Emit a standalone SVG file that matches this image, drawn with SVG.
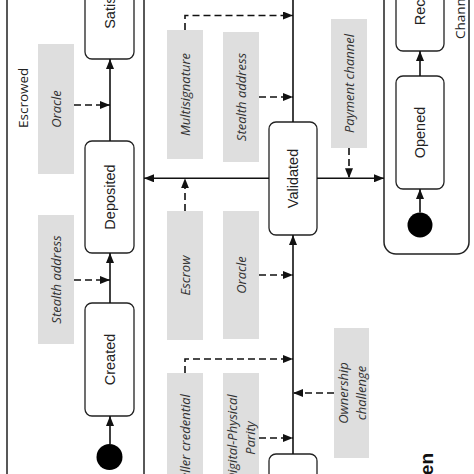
<svg xmlns="http://www.w3.org/2000/svg" width="474" height="474" viewBox="0 0 474 474">
<style>
.bg{fill:#ffffff}
.cont{fill:none;stroke:#222;stroke-width:1.5}
.state{fill:#fff;stroke:#222;stroke-width:1.3}
.gray{fill:#dedede;stroke:none}
.init{fill:#000}
.sl{font-family:"Liberation Sans",Arial,sans-serif;font-size:14.5px;fill:#222;text-anchor:middle;dominant-baseline:central}
.gl{font-family:"Open Sans",sans-serif;font-style:italic;font-size:13px;fill:#333;text-anchor:middle;dominant-baseline:central}
.cl{font-family:"Open Sans",sans-serif;font-size:13.5px;fill:#222}
.title{font-family:"Liberation Sans",Arial,sans-serif;font-weight:bold;font-size:19px;fill:#111;text-anchor:end}
.solid{fill:none;stroke:#111;stroke-width:1.6}
.dash{fill:none;stroke:#111;stroke-width:1.6;stroke-dasharray:7 4}
</style>
<defs>
<marker id="ah" viewBox="0 0 10 8" refX="10" refY="4" markerWidth="10" markerHeight="8" markerUnits="userSpaceOnUse" orient="auto">
<path d="M0,0 L10,4 L0,8 z" fill="#111"/>
</marker>
</defs>
<rect class="bg" x="0" y="0" width="474" height="474"/>

<g id="escrowed">
<rect class="cont" x="7" y="-20" width="137" height="520"/>
<text class="cl" transform="translate(28,128) rotate(-90)">Escrowed</text>
</g>

<g id="channel">
<rect class="cont" x="384" y="-30" width="85" height="284" rx="12"/>
<text class="cl" transform="translate(465,39) rotate(-90)">Channel</text>
</g>

<g id="oracle-left">
<rect class="gray" x="38" y="44" width="36" height="130"/>
<text class="gl" transform="translate(56,109) rotate(-90)">Oracle</text>
</g>
<g id="stealth-left">
<rect class="gray" x="38" y="215" width="36" height="129"/>
<text class="gl" transform="translate(56,279.5) rotate(-90)">Stealth address</text>
</g>

<g id="satisfied">
<rect class="state" x="85" y="-57" width="49" height="116" rx="7"/>
<text class="sl" transform="translate(109.5,1) rotate(-90)">Satisfied</text>
</g>
<g id="deposited">
<rect class="state" x="85" y="141" width="49" height="112" rx="7"/>
<text class="sl" transform="translate(109.5,197) rotate(-90)">Deposited</text>
</g>
<g id="created">
<rect class="state" x="85" y="303" width="49" height="113" rx="7"/>
<text class="sl" transform="translate(109.5,359.5) rotate(-90)">Created</text>
</g>
<g id="init-escrowed">
<circle class="init" cx="109.5" cy="457" r="13"/>
</g>

<g id="multisignature">
<rect class="gray" x="167" y="30" width="36" height="129"/>
<text class="gl" transform="translate(185,94.5) rotate(-90)">Multisignature</text>
</g>
<g id="escrow">
<rect class="gray" x="167" y="211" width="36" height="129"/>
<text class="gl" transform="translate(185,275.5) rotate(-90)">Escrow</text>
</g>
<g id="seller-credential">
<rect class="gray" x="167" y="373" width="36" height="134"/>
<text class="gl" transform="translate(185,440) rotate(-90)">Seller credential</text>
</g>
<g id="stealth-mid">
<rect class="gray" x="223" y="32" width="36" height="130"/>
<text class="gl" transform="translate(241,97) rotate(-90)">Stealth address</text>
</g>
<g id="oracle-mid">
<rect class="gray" x="223" y="211" width="36" height="128"/>
<text class="gl" transform="translate(241,275) rotate(-90)">Oracle</text>
</g>
<g id="digital-physical-parity">
<rect class="gray" x="223" y="373" width="36" height="130"/>
<text class="gl" transform="translate(232,438) rotate(-90)">Digital-Physical</text>
<text class="gl" transform="translate(250,438) rotate(-90)">Parity</text>
</g>

<g id="validated">
<rect class="state" x="269" y="122" width="48" height="113" rx="7"/>
<text class="sl" transform="translate(293,178.5) rotate(-90)">Validated</text>
</g>
<g id="lower-state">
<rect class="state" x="269" y="454" width="48" height="113" rx="7"/>
</g>

<g id="ownership-challenge">
<rect class="gray" x="334" y="328" width="35" height="130"/>
<text class="gl" transform="translate(343,393) rotate(-90)">Ownership</text>
<text class="gl" transform="translate(361,393) rotate(-90)">challenge</text>
</g>
<g id="payment-channel">
<rect class="gray" x="331" y="19" width="36" height="129"/>
<text class="gl" transform="translate(349,83.5) rotate(-90)">Payment channel</text>
</g>

<g id="received">
<rect class="state" x="396" y="-62" width="48" height="113" rx="7"/>
<text class="sl" transform="translate(420,-5) rotate(-90)">Received</text>
</g>
<g id="opened">
<rect class="state" x="396" y="76" width="48" height="113" rx="7"/>
<text class="sl" transform="translate(420,132.5) rotate(-90)">Opened</text>
</g>
<g id="init-channel">
<circle class="init" cx="420" cy="225" r="12.5"/>
</g>

<g id="title">
<text class="title" transform="translate(433,453) rotate(-90)">en</text>
</g>

<g id="connectors">
<path class="solid" d="M110,444 L110,416" marker-end="url(#ah)"/>
<path class="solid" d="M110,303 L110,253" marker-end="url(#ah)"/>
<path class="solid" d="M110,141 L110,59" marker-end="url(#ah)"/>
<path class="dash" d="M74,105 L110,105" marker-end="url(#ah)"/>
<path class="dash" d="M74,280 L110,280" marker-end="url(#ah)"/>

<path class="solid" d="M293,122 L293,-5"/>
<path class="dash" d="M185,30 L185,15.5 L293,15.5" marker-end="url(#ah)"/>
<path class="dash" d="M259,97 L293,97" marker-end="url(#ah)"/>
<path class="solid" d="M269,178.3 L144,178.3" marker-end="url(#ah)"/>
<path class="dash" d="M185,211 L185,178.3" marker-end="url(#ah)"/>
<path class="dash" d="M259,275 L293,275" marker-end="url(#ah)"/>
<path class="dash" d="M185,373 L185,359 L293,359" marker-end="url(#ah)"/>
<path class="dash" d="M259,438 L293,438" marker-end="url(#ah)"/>
<path class="dash" d="M334,393 L293,393" marker-end="url(#ah)"/>
<path class="solid" d="M293,454 L293,235" marker-end="url(#ah)"/>
<path class="solid" d="M317,178.3 L384,178.3" marker-end="url(#ah)"/>
<path class="dash" d="M349,148 L349,178.3" marker-end="url(#ah)"/>

<path class="solid" d="M420,76 L420,51" marker-end="url(#ah)"/>
<path class="solid" d="M420,212.5 L420,189" marker-end="url(#ah)"/>
</g>
</svg>
